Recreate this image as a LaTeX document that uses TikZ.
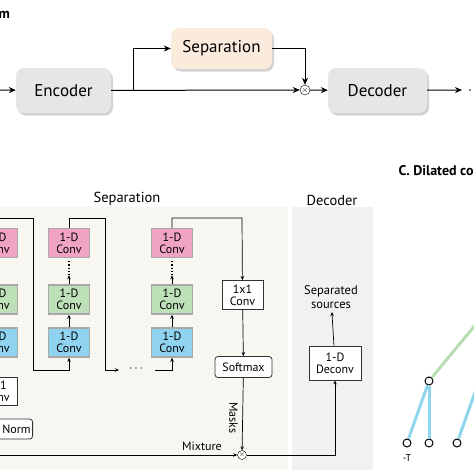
\documentclass[tikz,border=0pt]{standalone}
\usepackage{fontspec}
\setmainfont{PT Sans}
\usetikzlibrary{positioning,arrows.meta,shadows}

\definecolor{topgray}{HTML}{E6E6E8}
\definecolor{toppeach}{HTML}{FBEBDD}
\definecolor{sepback}{HTML}{F8F6F1}
\definecolor{decback}{HTML}{F1F1F2}
\definecolor{convpink}{HTML}{F0A3C2}
\definecolor{convgreen}{HTML}{BEE0B8}
\definecolor{convblue}{HTML}{8FD3F1}
\definecolor{convedge}{HTML}{A8A8A8}
\definecolor{treeblue}{HTML}{8FD6EE}
\definecolor{treegreen}{HTML}{B8DDB2}

\tikzset{
  topbox/.style={fill=topgray,rounded corners=8pt,minimum width=95pt,minimum height=45pt,
    font=\fontsize{17}{17}\selectfont,
    drop shadow={shadow xshift=2pt,shadow yshift=-2.5pt,opacity=0.35}},
  conv/.style={draw=convedge,line width=1.5pt,minimum width=41pt,minimum height=29pt,inner sep=0pt},
  plain/.style={draw=black!80,fill=white,line width=0.8pt,inner sep=2pt},
  soft/.style={plain,rounded corners=3pt},
  mult/.style={circle,draw,fill=white,inner sep=0pt,minimum size=#1},
  big/.style={-{Stealth[length=7pt,width=6pt]},line width=1pt},
  small/.style={-{Stealth[length=4pt,width=3.5pt]},line width=0.7pt},
  tnode/.style={circle,draw,fill=white,line width=1pt,inner sep=0pt,minimum size=8pt},
  tedge/.style={line width=3pt}
}

\begin{document}
\begin{tikzpicture}[x=1pt,y=-1pt,every node/.style={align=center,font=\fontsize{12}{12}\selectfont}]

\useasboundingbox (0,0) rectangle (474,474);
\clip (0,0) rectangle (474,474);

% top row
\node[font=\bfseries\fontsize{14}{14}\selectfont,anchor=east,inner sep=0pt] (atitle) at (10,15) {m};
\node[topbox] (enc) at (63.5,90.5) {Encoder};
\node[topbox,fill=toppeach,minimum width=101pt,minimum height=41pt] (sep) at (221.5,48.5) {Separation};
\node[topbox,minimum width=99pt] (dec) at (377.5,90.5) {Decoder};
\node[mult=10pt,font=\fontsize{8}{8}\selectfont] (mul) at (305,90) {$\times$};
\coordinate (in) at (0,90);
\coordinate (split) at (133,90);
\coordinate (out) at (462,90);
\draw[big] (in) -- (enc);
\draw[big] (enc) -- (mul);
\draw[big] (split) |- (sep);
\draw[big] (sep) -| (mul);
\draw[big] (mul) -- (dec);
\draw[big] (dec) -- (out);
\fill (470,90) circle[radius=0.8pt];

% panels
\fill[sepback] (-5,207) rectangle (288,470);
\fill[decback] (292,207) rectangle (373,470);
\node[font=\fontsize{14.5}{14.5}\selectfont] (septitle) at (127,199) {Separation};
\node[font=\fontsize{14.5}{14.5}\selectfont] (dectitle) at (332,200) {Decoder};
\node[font=\bfseries\fontsize{14}{14}\selectfont,anchor=west] (ctitle) at (395,171) {C. Dilated co};

% conv columns
\newcommand{\convcol}[2]{
	\node[conv,fill=convpink] (p#1) at (#2,243) {1-D\\Conv};
	\node[conv,fill=convgreen] (g#1) at (#2,299.5) {1-D\\Conv};
	\node[conv,fill=convblue] (b#1) at (#2,342.5) {1-D\\Conv};
	\draw[small] (b#1) -- (g#1);
	\draw[small] (g#1.north) -- ++(0,-9) coordinate (d#1);
	\draw[dotted,line width=1.2pt] (d#1) -- ++(0,-14);
}
\foreach \c/\x in {1/-3,2/69,3/172}{
	\convcol{\c}{\x}
}

\node[plain,minimum width=41pt,minimum height=28pt] (c1) at (-3,391) {1x1\\Conv};
\node[soft,anchor=east,text width=50pt,align=right,minimum height=20pt] (norm) at (33,429) {Norm};
\draw[small] (c1) -- (b1);

\coordinate (r1) at (33,218);
\coordinate (s1) at (33,370);
\coordinate (r2) at (105,218);
\coordinate (s2) at (105,370);
\coordinate (e2) at (119,370);
\coordinate (f3) at (155,370);
\coordinate (r3) at (242,218);
\draw[small] (p1.north) |- (r1) -- (s1) -| (b2.south);
\draw[small] (p2.north) |- (r2) -- (s2) -- (e2);
\node (hdots) at (136,369) {$\cdots$};
\draw[small] (f3) -| (b3.south);

\node[plain,minimum width=41pt,minimum height=29pt] (cr) at (242.5,295) {1x1\\Conv};
\node[soft,minimum width=57pt,minimum height=21pt] (softmax) at (243.5,367) {Softmax};
\draw[small] (p3.north) |- (r3) -- (cr);
\draw[small] (cr) -- (softmax);

\node[mult=9pt,font=\fontsize{7}{7}\selectfont] (mul2) at (242,455) {$\times$};
\draw[small] (softmax) -- (mul2);
\node[rotate=-90,anchor=north,inner sep=1pt] (masks) at (239,418) {Masks};
\coordinate (mixin) at (0,455);
\draw[small] (mixin) -- (mul2);
\node (mixlbl) at (202,446) {Mixture};

\node[plain,minimum width=52pt,minimum height=34pt] (deconv) at (335,363) {1-D\\Deconv};
\node[font=\fontsize{12.5}{14}\selectfont] (srcs) at (331,297) {Separated\\sources};
\draw[small] (mul2) -| (deconv.south);
\draw[small] (deconv) -- (srcs);

% dilated tree
\node[tnode] (t0) at (407,443) {};
\node[tnode] (t1) at (429,443) {};
\node[tnode] (t2) at (457,443) {};
\node[tnode] (m0) at (429,381) {};
\coordinate (m1) at (479,381);
\coordinate (u0) at (486,312);
\draw[tedge,treeblue] (t0) -- (m0);
\draw[tedge,treeblue] (t1) -- (m0);
\draw[tedge,treeblue] (t2) -- (m1);
\draw[tedge,treegreen] (m0) -- (u0);
\node[font=\fontsize{10}{10}\selectfont] (tlbl) at (407,458) {-T};

\end{tikzpicture}
\end{document}
